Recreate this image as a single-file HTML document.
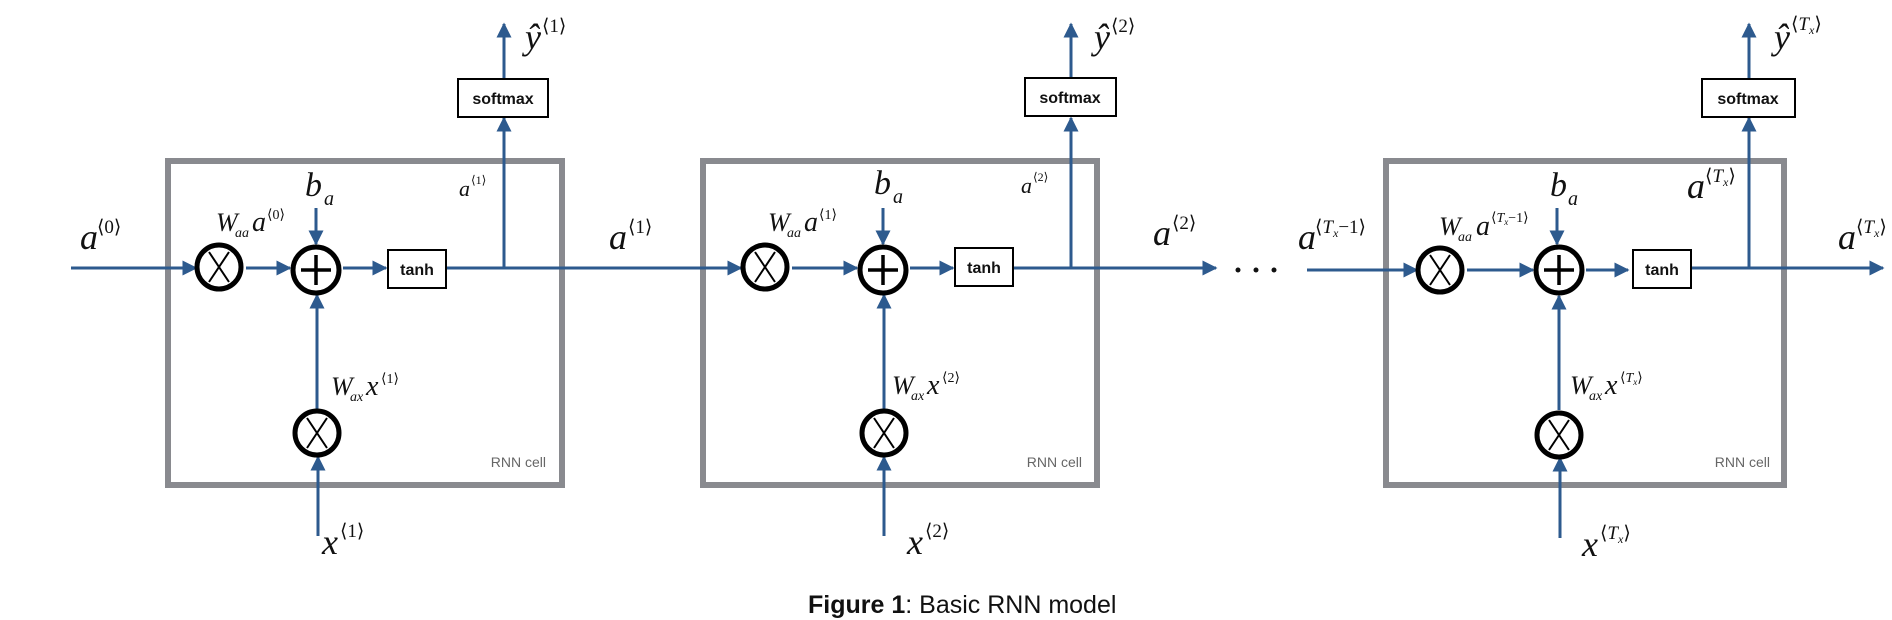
<!DOCTYPE html>
<html><head><meta charset="utf-8"><style>
html,body{margin:0;padding:0;background:#fff;}
svg{display:block;}
.m{font-family:"Liberation Serif",serif;font-style:italic;fill:#111;}
.s{font-family:"Liberation Serif",serif;fill:#111;}
.b{font-family:"Liberation Sans",sans-serif;font-weight:bold;fill:#111;}
</style></head><body>
<svg width="1892" height="620" viewBox="0 0 1892 620" xmlns="http://www.w3.org/2000/svg">
<defs>
<marker id="ah" markerWidth="5" markerHeight="5" refX="4.5" refY="2.5" orient="auto" markerUnits="strokeWidth">
<path d="M0,0 L5,2.5 L0,5 Z" fill="#2d5a8e"/></marker>
<g id="ot"><circle r="22" fill="#fff" stroke="#000" stroke-width="5"/><path d="M-10,-15 L10,15 M10,-15 L-10,15" stroke="#000" stroke-width="2"/></g>
<g id="op"><circle r="23" fill="#fff" stroke="#000" stroke-width="5"/><path d="M-15,0 L15,0 M0,-15 L0,15" stroke="#000" stroke-width="3.5"/></g>
</defs>
<g fill="none" stroke="#898a8f" stroke-width="6">
<rect x="168" y="161" width="394" height="324"/>
<rect x="703" y="161" width="394" height="324"/>
<rect x="1386" y="161" width="398" height="324"/>
</g>
<g stroke="#2d5a8e" stroke-width="3" fill="none" marker-end="url(#ah)">
<line x1="71" y1="268" x2="196" y2="268"/>
<line x1="246" y1="268" x2="290" y2="268"/>
<line x1="316" y1="208" x2="316" y2="244"/>
<line x1="343" y1="268" x2="386" y2="268"/>
<line x1="446" y1="268" x2="741" y2="268"/>
<line x1="504" y1="268" x2="504" y2="118"/>
<line x1="504" y1="79" x2="504" y2="24"/>
<line x1="317" y1="410" x2="317" y2="295"/>
<line x1="318" y1="536" x2="318" y2="457"/>
<line x1="792" y1="268" x2="857" y2="268"/>
<line x1="883" y1="208" x2="883" y2="244"/>
<line x1="910" y1="268" x2="953" y2="268"/>
<line x1="1013" y1="268" x2="1216" y2="268"/>
<line x1="1071" y1="268" x2="1071" y2="118"/>
<line x1="1071" y1="79" x2="1071" y2="24"/>
<line x1="884" y1="410" x2="884" y2="295"/>
<line x1="884" y1="536" x2="884" y2="457"/>
<line x1="1307" y1="270" x2="1417" y2="270"/>
<line x1="1467" y1="270" x2="1533" y2="270"/>
<line x1="1557" y1="208" x2="1557" y2="244"/>
<line x1="1586" y1="270" x2="1628" y2="270"/>
<line x1="1691" y1="268" x2="1883" y2="268"/>
<line x1="1749" y1="268" x2="1749" y2="118"/>
<line x1="1749" y1="79" x2="1749" y2="24"/>
<line x1="1559" y1="410" x2="1559" y2="296"/>
<line x1="1560" y1="538" x2="1560" y2="458"/>
</g>
<g fill="#111"><circle cx="1238" cy="270" r="2.5"/><circle cx="1256" cy="270" r="2.5"/><circle cx="1274" cy="270" r="2.5"/></g>
<use href="#ot" x="219" y="267"/><use href="#op" x="316" y="270"/><use href="#ot" x="317" y="433"/>
<use href="#ot" x="765" y="267"/><use href="#op" x="883" y="270"/><use href="#ot" x="884" y="433"/>
<use href="#ot" x="1440" y="270"/><use href="#op" x="1559" y="270"/><use href="#ot" x="1559" y="435"/>
<g fill="#fff" stroke="#000" stroke-width="2">
<rect x="388" y="250" width="58" height="38"/><rect x="458" y="79" width="90" height="38"/>
<rect x="955" y="248" width="58" height="38"/><rect x="1025" y="78" width="91" height="38"/>
<rect x="1633" y="250" width="58" height="38"/><rect x="1702" y="79" width="93" height="38"/>
</g>
<g class="b" font-size="16" text-anchor="middle">
<text x="417" y="275">tanh</text><text x="503" y="104">softmax</text>
<text x="984" y="273">tanh</text><text x="1070" y="103">softmax</text>
<text x="1662" y="275">tanh</text><text x="1748" y="104">softmax</text>
</g>
<g font-family="Liberation Sans,sans-serif" font-size="14" fill="#666" text-anchor="end">
<text x="546" y="467">RNN cell</text><text x="1082" y="467">RNN cell</text><text x="1770" y="467">RNN cell</text>
</g>
<text class="m" font-size="36" x="80" y="249">a</text><text class="s" font-size="19" x="97" y="233">⟨0⟩</text>
<text class="m" font-size="34" x="305" y="196">b</text><text class="m" font-size="20" x="324" y="205">a</text>
<text class="m" font-size="26" x="216" y="231">W</text><text class="m" font-size="14" x="235" y="237">aa</text><text class="m" font-size="28" x="252" y="231">a</text><text class="s" font-size="14" x="267" y="219">⟨0⟩</text>
<text class="m" font-size="22" x="459" y="196">a</text><text class="s" font-size="12" x="471" y="184">⟨1⟩</text>
<text class="m" font-size="36" x="525" y="49">ŷ</text><text class="s" font-size="19" x="542" y="32">⟨1⟩</text>
<text class="m" font-size="26" x="331" y="395">W</text><text class="m" font-size="14" x="350" y="401">ax</text><text class="m" font-size="28" x="366" y="395">x</text><text class="s" font-size="14" x="381" y="383">⟨1⟩</text>
<text class="m" font-size="36" x="322" y="554">x</text><text class="s" font-size="19" x="340" y="537">⟨1⟩</text>
<text class="m" font-size="36" x="609" y="249">a</text><text class="s" font-size="19" x="628" y="233">⟨1⟩</text>
<text class="m" font-size="34" x="874" y="194">b</text><text class="m" font-size="20" x="893" y="203">a</text>
<text class="m" font-size="26" x="768" y="231">W</text><text class="m" font-size="14" x="787" y="237">aa</text><text class="m" font-size="28" x="804" y="231">a</text><text class="s" font-size="14" x="819" y="219">⟨1⟩</text>
<text class="m" font-size="22" x="1021" y="193">a</text><text class="s" font-size="12" x="1033" y="181">⟨2⟩</text>
<text class="m" font-size="36" x="1094" y="49">ŷ</text><text class="s" font-size="19" x="1111" y="32">⟨2⟩</text>
<text class="m" font-size="26" x="892" y="394">W</text><text class="m" font-size="14" x="911" y="400">ax</text><text class="m" font-size="28" x="927" y="394">x</text><text class="s" font-size="14" x="942" y="382">⟨2⟩</text>
<text class="m" font-size="36" x="907" y="554">x</text><text class="s" font-size="19" x="925" y="537">⟨2⟩</text>
<text class="m" font-size="36" x="1153" y="245">a</text><text class="s" font-size="19" x="1172" y="229">⟨2⟩</text>
<text class="m" font-size="36" x="1298" y="249">a</text><text class="s" font-size="19" x="1315" y="233">⟨<tspan font-style="italic">T</tspan><tspan font-style="italic" font-size="12" dy="4">x</tspan><tspan dy="-4">−1⟩</tspan></text>
<text class="m" font-size="34" x="1550" y="196">b</text><text class="m" font-size="20" x="1568" y="205">a</text>
<text class="m" font-size="26" x="1439" y="235">W</text><text class="m" font-size="14" x="1458" y="241">aa</text><text class="m" font-size="28" x="1476" y="235">a</text><text class="s" font-size="14" x="1491" y="222">⟨<tspan font-style="italic">T</tspan><tspan font-style="italic" font-size="9" dy="3">x</tspan><tspan dy="-3">−1⟩</tspan></text>
<text class="m" font-size="36" x="1687" y="198">a</text><text class="s" font-size="19" x="1705" y="182">⟨<tspan font-style="italic">T</tspan><tspan font-style="italic" font-size="12" dy="4">x</tspan><tspan dy="-4">⟩</tspan></text>
<text class="m" font-size="36" x="1774" y="49">ŷ</text><text class="s" font-size="19" x="1791" y="30">⟨<tspan font-style="italic">T</tspan><tspan font-style="italic" font-size="12" dy="4">x</tspan><tspan dy="-4">⟩</tspan></text>
<text class="m" font-size="26" x="1570" y="394">W</text><text class="m" font-size="14" x="1589" y="400">ax</text><text class="m" font-size="28" x="1605" y="394">x</text><text class="s" font-size="14" x="1620" y="382">⟨<tspan font-style="italic">T</tspan><tspan font-style="italic" font-size="9" dy="3">x</tspan><tspan dy="-3">⟩</tspan></text>
<text class="m" font-size="36" x="1582" y="556">x</text><text class="s" font-size="19" x="1600" y="539">⟨<tspan font-style="italic">T</tspan><tspan font-style="italic" font-size="12" dy="4">x</tspan><tspan dy="-4">⟩</tspan></text>
<text class="m" font-size="36" x="1838" y="249">a</text><text class="s" font-size="19" x="1856" y="233">⟨<tspan font-style="italic">T</tspan><tspan font-style="italic" font-size="12" dy="4">x</tspan><tspan dy="-4">⟩</tspan></text>
<text font-family="Liberation Sans,sans-serif" font-size="25" fill="#111" x="808" y="613"><tspan font-weight="bold">Figure 1</tspan>: Basic RNN model</text>
</svg>
</body></html>
